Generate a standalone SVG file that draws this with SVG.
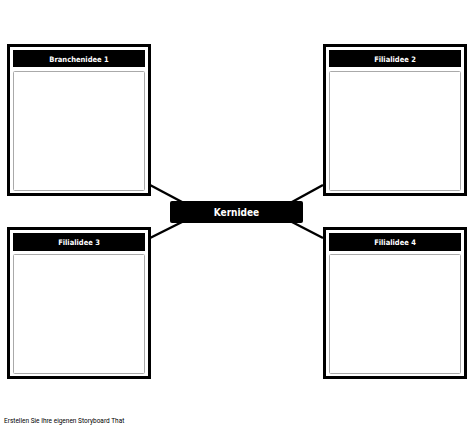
<svg xmlns="http://www.w3.org/2000/svg" width="474" height="431" viewBox="0 0 474 431">
<style>
.frame{fill:#fff;stroke:#000;stroke-width:3}
.head{fill:#000}
.body{fill:#fff;stroke:#aaa;stroke-width:1}
.lbl{fill:#fff;font-family:"DejaVu Sans Condensed","DejaVu Sans",sans-serif;font-weight:bold;font-size:7.5px;text-anchor:middle}
.conn{stroke:#000;stroke-width:2.5;fill:none}
</style>
<rect width="474" height="431" fill="#fff"/>
<g id="connectors">
<line class="conn" x1="150" y1="185" x2="182" y2="202"/>
<line class="conn" x1="323" y1="185" x2="292" y2="202"/>
<line class="conn" x1="150" y1="238" x2="182" y2="222"/>
<line class="conn" x1="323" y1="238" x2="292" y2="222"/>
</g>
<g id="box1">
<rect class="frame" x="8.5" y="45.5" width="141" height="149"/>
<rect class="head" x="13" y="50" width="132" height="17"/>
<rect class="body" x="13.5" y="71.5" width="131" height="119" rx="1"/>
<text class="lbl" x="79" y="61.5">Branchenidee 1</text>
</g>
<g id="box2">
<rect class="frame" x="324.5" y="45.5" width="141" height="149"/>
<rect class="head" x="329" y="50" width="132" height="17"/>
<rect class="body" x="329.5" y="71.5" width="131" height="119" rx="1"/>
<text class="lbl" x="395" y="61.5">Filialidee 2</text>
</g>
<g id="box3">
<rect class="frame" x="8.5" y="228.5" width="141" height="149"/>
<rect class="head" x="13" y="233" width="132" height="18"/>
<rect class="body" x="13.5" y="254.5" width="131" height="119" rx="1"/>
<text class="lbl" x="79" y="245">Filialidee 3</text>
</g>
<g id="box4">
<rect class="frame" x="324.5" y="228.5" width="141" height="149"/>
<rect class="head" x="329" y="233" width="132" height="18"/>
<rect class="body" x="329.5" y="254.5" width="131" height="119" rx="1"/>
<text class="lbl" x="395" y="245">Filialidee 4</text>
</g>
<g id="center">
<rect x="170" y="201" width="133" height="22" rx="2" fill="#000"/>
<text x="236.5" y="216" fill="#fff" font-family="'DejaVu Sans Condensed','DejaVu Sans',sans-serif" font-weight="bold" font-size="10" text-anchor="middle">Kernidee</text>
</g>
<text x="4" y="423" font-family="Roboto,'Liberation Sans',sans-serif" font-size="6.5" fill="#000">Erstellen Sie Ihre eigenen Storyboard That</text>
</svg>
